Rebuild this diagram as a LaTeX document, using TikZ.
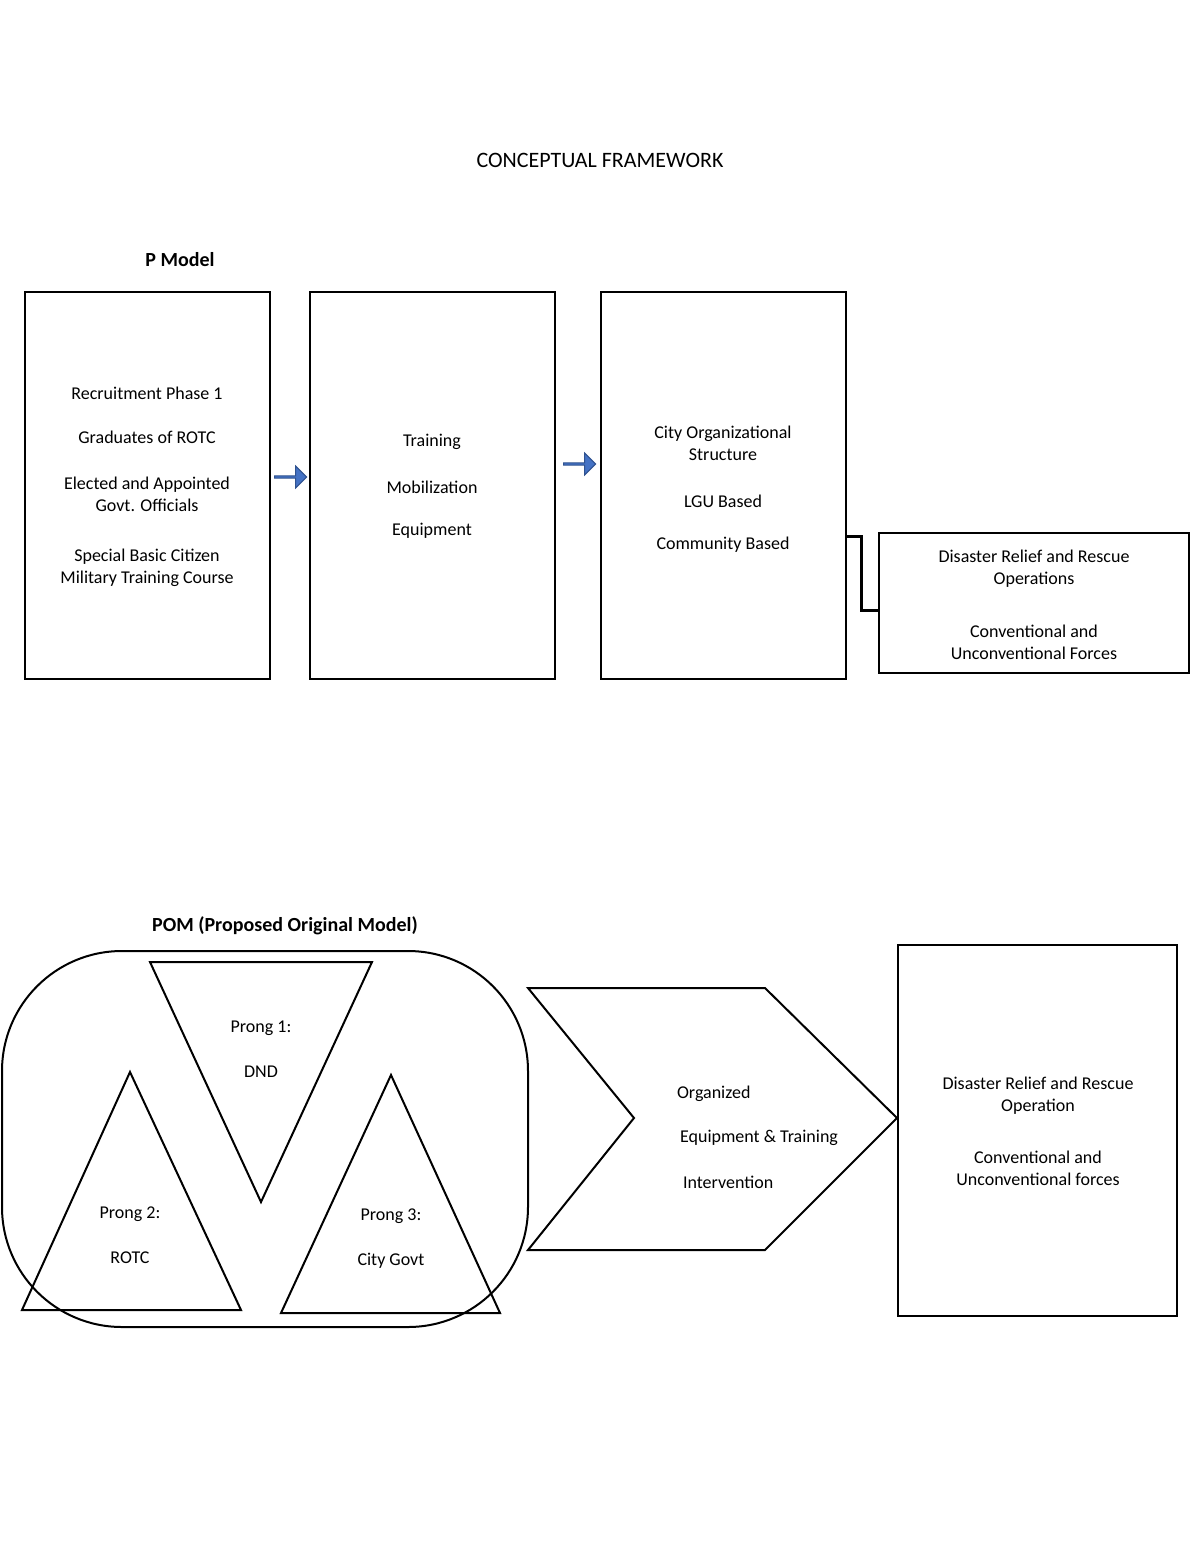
\documentclass[tikz,border=0pt]{standalone}
\usepackage{fontspec}
\setmainfont{Carlito}
\usetikzlibrary{shapes.arrows}
\definecolor{arrowblue}{HTML}{4472C4}
\definecolor{arrowedge}{HTML}{2F528F}
\begin{document}
\begin{tikzpicture}[x=0.5pt,y=-0.5pt,
    box/.style={draw,line width=1pt},
    txt/.style={font=\fontsize{9}{11}\selectfont,align=center},
    ttl/.style={font=\bfseries\fontsize{10}{12}\selectfont},
    blk/.style={single arrow,fill=arrowblue,draw=arrowedge,line width=0.5pt,
        minimum height=16pt,minimum width=11pt,single arrow head extend=2pt,inner sep=0pt}]
  \useasboundingbox (0,0) rectangle (1200,1553);

  \node[font=\fontsize{11}{13}\selectfont] (title) at (600,160) {CONCEPTUAL FRAMEWORK};
  \node[ttl] (pmodel) at (180,260) {P Model};

  % P model boxes
  \draw[box] (25,292) rectangle (270,679);
  \draw[box] (310,292) rectangle (555,679);
  \draw[box] (601,292) rectangle (846,679);
  \draw[box] (879,533) rectangle (1189,673);
  \coordinate (b3) at (846,536);
  \coordinate (b4) at (879,610);

  \node[txt] (recr) at (147,393) {Recruitment Phase 1};
  \node[txt] (grad) at (147,437) {Graduates of ROTC};
  \node[txt] (elec) at (147,494) {Elected and Appointed\\Govt. Officials};
  \node[txt] (spec) at (147,568) {Special Basic Citizen\\Military Training Course};

  \node[txt] (trai) at (432,442) {Training};
  \node[txt] (mobi) at (432,487) {Mobilization};
  \node[txt] (equi) at (432,531) {Equipment};

  \node[txt] (city) at (723,443) {City Organizational\\Structure};
  \node[txt] (lgu) at (723,501) {LGU Based};
  \node[txt] (comm) at (723,545) {Community Based};

  \node[txt] (drro) at (1034,569) {Disaster Relief and Rescue\\Operations};
  \node[txt] (cauf) at (1034,642) {Conventional and\\Unconventional Forces};

  \node[blk] (arr1) at (290,477) {};
  \node[blk] (arr2) at (579,464) {};

  \draw[line width=1.5pt] (b3) -- (861,536) -- (861,610) -- (b4);

  % POM
  \node[ttl] (pom) at (285,926) {POM (Proposed Original Model)};
  \draw[box,rounded corners=60] (2,951) rectangle (528,1327);
  \draw[box] (150,962) -- (372,962) -- (261,1202) -- cycle;
  \draw[box] (130,1072) -- (241,1310) -- (22,1310) -- cycle;
  \draw[box] (391,1075) -- (500,1313) -- (281,1313) -- cycle;
  \node[txt] (p1) at (261,1028) {Prong 1:};
  \node[txt] (dnd) at (261,1072) {DND};
  \node[txt] (p2) at (130,1214) {Prong 2:};
  \node[txt] (rotc) at (130,1258) {ROTC};
  \node[txt] (p3) at (391,1216) {Prong 3:};
  \node[txt] (govt) at (391,1261) {City Govt};

  \draw[box] (528,988) -- (765,988) -- (897,1118) -- (765,1250) -- (528,1250) -- (634,1118) -- cycle;
  \node[txt,anchor=west] (org) at (670,1094) {Organized};
  \node[txt,anchor=west] (eqt) at (673,1138) {Equipment \& Training};
  \node[txt,anchor=west] (int) at (676,1182) {Intervention};

  \draw[box] (898,945) rectangle (1177,1316);
  \node[txt] (drr2) at (1038,1096) {Disaster Relief and Rescue\\Operation};
  \node[txt] (cuf2) at (1038,1168) {Conventional and\\Unconventional forces};
\end{tikzpicture}
\end{document}
